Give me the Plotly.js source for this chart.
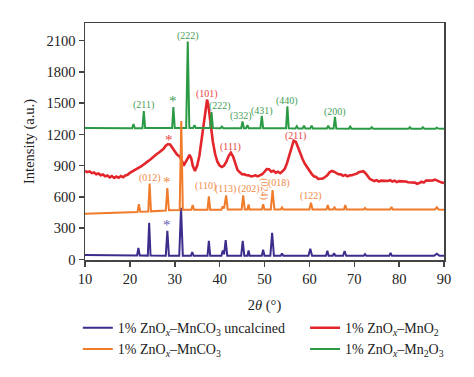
<!DOCTYPE html>
<html>
<head>
<meta charset="utf-8">
<script src="https://cdn.plot.ly/plotly-3.0.1.min.js"></script>
<style>html,body{margin:0;padding:0;background:#fff;}#chart{width:474px;height:377px;}</style>
</head>
<body>
<div id="chart"></div>
<script>
// Series names
const seriesNames = [
  '1% ZnO<sub><i>x</i></sub>–MnCO<sub>3</sub> uncalcined',
  '1% ZnO<sub><i>x</i></sub>–MnCO<sub>3</sub>',
  '1% ZnO<sub><i>x</i></sub>–MnO<sub>2</sub>',
  '1% ZnO<sub><i>x</i></sub>–Mn<sub>2</sub>O<sub>3</sub>'
];

// [2theta, intensity]
const blueData = [[10,42],[15,40],[20,38],[21.6,38],[21.9,110],[22.2,38],[24.0,37],[24.3,352],[24.6,37],[28.0,36],[28.35,275],[28.7,36],[31.0,36],[31.4,495],[31.8,36],[33.6,36],[33.9,72],[34.2,36],[37.3,36],[37.6,180],[37.9,36],[40.4,36],[40.7,85],[41.0,50],[41.35,187],[41.7,36],[44.8,36],[45.15,180],[45.5,36],[46.2,36],[46.45,87],[46.7,36],[49.4,35],[49.7,93],[50.0,35],[51.3,35],[51.7,255],[52.1,35],[53.6,35],[53.9,58],[54.2,35],[56.5,35],[59.8,35],[60.2,103],[60.6,35],[63.7,35],[64.0,84],[64.3,35],[65.2,35],[65.5,60],[65.8,35],[67.5,35],[67.85,81],[68.2,35],[72.1,35],[72.4,52],[72.7,35],[76,35],[77.8,35],[78.1,62],[78.4,35],[82,35],[85,35],[87.8,35],[88.4,55],[89.0,35],[90,35]];

const orangeData = [[10,440],[15,445],[20,452],[21.7,455],[22.0,530],[22.3,458],[24.1,460],[24.4,730],[24.7,462],[28.0,470],[28.35,685],[28.7,472],[31.1,475],[31.45,1330],[31.8,478],[33.7,478],[34.0,522],[34.3,478],[37.3,478],[37.6,606],[37.9,478],[40.4,478],[40.7,510],[41.0,490],[41.45,616],[41.8,480],[44.9,480],[45.25,616],[45.6,480],[46.2,480],[46.45,529],[46.7,480],[49.4,480],[49.7,529],[50.0,480],[51.4,480],[51.8,665],[52.2,480],[53.6,480],[53.9,500],[54.2,480],[57,480],[60.0,480],[60.35,544],[60.7,480],[63.8,480],[64.1,522],[64.4,480],[65.3,480],[65.6,500],[65.9,480],[67.7,480],[68.0,522],[68.3,480],[72.1,480],[72.4,495],[72.7,480],[76,480],[78.0,480],[78.3,504],[78.6,480],[82,480],[85,480],[88.0,480],[88.4,500],[88.8,480],[90,478]];

const redData = [[10,850],[10.5,838],[11,846],[11.5,829],[12,836],[12.5,818],[13,826],[13.5,808],[14,816],[14.5,798],[15,806],[15.5,788],[16,801],[16.5,783],[17,796],[17.5,784],[18,801],[18.5,789],[19,806],[19.5,813],[20,832],[20.5,843],[21,852],[21.5,868],[22,882],[22.5,893],[23,912],[23.5,922],[24,942],[24.5,957],[25,977],[25.5,988],[26,1012],[26.5,1027],[27,1047],[27.5,1062],[28,1092],[28.5,1108],[29,1102],[29.5,1068],[30,1042],[30.5,1008],[31,992],[31.5,958],[32,900],[32.5,942],[33,988],[33.3,1005],[33.7,968],[34,902],[34.5,848],[35,902],[35.5,998],[36,1152],[36.5,1348],[37,1512],[37.2,1535],[37.5,1478],[38,1302],[38.5,1128],[39,1012],[39.5,938],[40,902],[40.5,888],[41,902],[41.5,938],[42,992],[42.5,1025],[43,988],[43.5,912],[44,858],[44.5,837],[45,818],[45.5,817],[46,808],[46.5,807],[47,798],[47.5,802],[48,808],[48.5,798],[49,807],[49.5,818],[50,842],[50.5,868],[51,867],[51.5,843],[52,852],[52.5,833],[53,842],[53.5,828],[54,847],[54.5,868],[55,922],[55.5,998],[56,1082],[56.5,1140],[57,1128],[57.5,1072],[58,1008],[58.5,962],[59,918],[59.5,882],[60,848],[60.5,822],[61,798],[61.5,792],[62,773],[62.5,772],[63,778],[63.5,792],[64,808],[64.5,837],[65,850],[65.5,843],[66,832],[66.5,818],[67,817],[67.5,803],[68,812],[68.5,798],[69,807],[69.5,808],[70,817],[70.5,823],[71,837],[71.5,843],[72,847],[72.5,828],[73,802],[73.5,773],[74,762],[74.5,753],[75,762],[75.5,748],[76,757],[76.5,758],[77,752],[77.5,753],[78,762],[78.5,748],[79,757],[79.5,743],[80,752],[80.5,753],[81,747],[81.5,748],[82,742],[82.5,743],[83,737],[83.5,738],[84,727],[84.5,733],[85,747],[85.5,738],[86,757],[86.5,758],[87,752],[87.5,758],[88,767],[88.5,753],[89,747],[89.5,738],[90,735]];

const greenData = [[10,1262],[15,1258],[18,1258],[20.5,1260],[20.8,1300],[21.1,1260],[22.8,1260],[23.1,1425],[23.4,1262],[26,1262],[29.4,1262],[29.7,1462],[30.0,1262],[32.55,1262],[32.9,2093],[33.25,1262],[34.1,1262],[34.4,1290],[34.7,1262],[36,1262],[37.9,1262],[38.2,1416],[38.5,1262],[40.2,1260],[40.5,1275],[40.8,1260],[44.8,1260],[45.1,1325],[45.4,1260],[45.9,1260],[46.2,1290],[46.5,1260],[49.1,1260],[49.4,1378],[49.7,1260],[52,1260],[54.8,1260],[55.1,1470],[55.4,1260],[56.9,1258],[57.2,1280],[57.5,1258],[58.5,1258],[58.8,1285],[59.1,1258],[60.2,1258],[60.5,1285],[60.8,1258],[63.9,1258],[64.2,1285],[64.5,1258],[65.4,1258],[65.7,1370],[66.0,1258],[68.8,1256],[69.1,1275],[69.4,1256],[73.6,1256],[73.9,1270],[74.2,1256],[78,1256],[82.1,1256],[82.4,1270],[82.7,1256],[85.0,1256],[85.3,1270],[85.6,1256],[88.1,1256],[88.4,1265],[88.7,1256],[90,1255]];

// Peak labels: text, 2theta, intensity, series index
const labelText = ['(211)','*','(222)','(101)','(222)','(332)','(431)','(440)','(200)','*','(111)','(211)','(012)','*','(110)','(113)','(202)','(024)','(018)','(122)','*'];
const labelX =    [23.1, 29.7, 32.9, 37.2, 40.0, 44.7, 49.4, 55.1, 65.7, 28.8, 42.5, 56.8, 24.4, 28.35, 36.8, 41.4, 46.5, 50.0, 53.3, 60.4, 28.35];
const labelY =    [1479, 1520, 2149, 1591, 1470, 1378, 1430, 1524, 1418, 1150, 1082, 1182, 784, 745, 709, 678, 678, 680, 734, 606, 330];
const labelSeries=[3,3,3,2,3,3,3,3,3,2,2,2,1,1,1,1,1,1,1,1,0];

const colors = ['#3a2d8c', '#f07b2b', '#e3262b', '#2b9a45'];
const labelColors = ['#6a60b0', '#f08a48', '#e8453e', '#3f9e55'];

const datasets = [blueData, orangeData, redData, greenData];
const widths = [2, 2, 2.6, 2];
const legendOf = ['legend', 'legend', 'legend2', 'legend2'];
const drawOrder = [2, 3, 0, 1];

const traces = drawOrder.map(i => ({
  type: 'scatter', mode: 'lines',
  x: datasets[i].map(p => p[0]),
  y: datasets[i].map(p => p[1]),
  name: seriesNames[i],
  line: {color: colors[i], width: widths[i]},
  legend: legendOf[i],
  legendrank: i
}));

const serif = 'Liberation Serif, Times New Roman, serif';

const annotations = labelText.map((t, k) => ({
  x: labelX[k], y: labelY[k], xref: 'x', yref: 'y',
  text: t, showarrow: false,
  textangle: t === '(024)' ? 90 : 0,
  font: {family: serif, size: t === '*' ? 15 : 10, color: labelColors[labelSeries[k]]}
}));

const layout = {
  width: 474, height: 377,
  margin: {l: 85, r: 30, t: 23, b: 111},
  paper_bgcolor: '#fff', plot_bgcolor: '#fff',
  showlegend: true,
  font: {family: serif, size: 14, color: '#222'},
  xaxis: {
    range: [10, 90], tickvals: [10,20,30,40,50,60,70,80,90],
    ticks: 'outside', ticklen: 5, tickwidth: 1.5, tickcolor: '#444',
    showline: true, linecolor: '#444', linewidth: 1.5, mirror: true,
    showgrid: false, zeroline: false,
    tickfont: {family: serif, size: 14.5, color: '#222'},
    title: {text: '2<i>θ</i> (°)', font: {family: serif, size: 14.5, color: '#222'}, standoff: 14}
  },
  yaxis: {
    range: [-5, 2270], tickvals: [0,300,600,900,1200,1500,1800,2100],
    ticks: 'outside', ticklen: 5, tickwidth: 1.5, tickcolor: '#444',
    showline: true, linecolor: '#444', linewidth: 1.5, mirror: true,
    showgrid: false, zeroline: false,
    tickfont: {family: serif, size: 14.5, color: '#222'},
    title: {text: 'Intensity (a.u.)', font: {family: serif, size: 14.5, color: '#222'}, standoff: 8}
  },
  legend: {
    x: -0.02, xanchor: 'left', y: -0.22, yanchor: 'top',
    orientation: 'v', tracegroupgap: 0,
    font: {family: serif, size: 14, color: '#222'},
    bgcolor: 'rgba(0,0,0,0)'
  },
  legend2: {
    x: 0.613, xanchor: 'left', y: -0.22, yanchor: 'top',
    orientation: 'v', tracegroupgap: 0,
    font: {family: serif, size: 14, color: '#222'},
    bgcolor: 'rgba(0,0,0,0)'
  },
  annotations: annotations
};

Plotly.newPlot('chart', traces, layout, {staticPlot: true, displayModeBar: false});
</script>
</body>
</html>
